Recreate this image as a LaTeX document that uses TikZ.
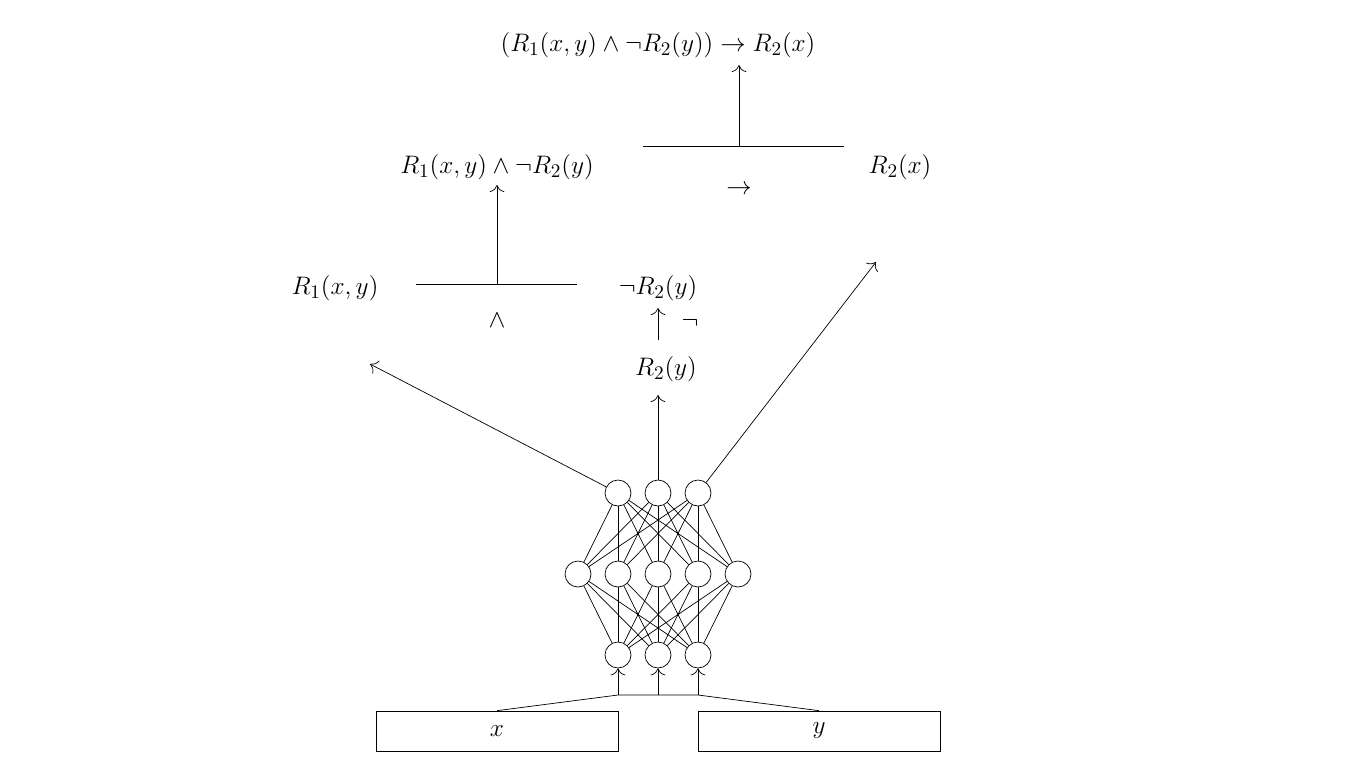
\documentclass[tikz,border=0pt]{standalone}
\usepackage{amsmath}
\usetikzlibrary{arrows.meta}
\begin{document}
\begin{tikzpicture}[x=0.02cm,y=-0.02cm,
  lbl/.style={inner sep=0pt,font=\fontsize{15}{18}\selectfont},
  neuron/.style={draw,circle,inner sep=0pt,minimum size=0.52cm},
  inbox/.style={draw,minimum width=4.84cm,minimum height=0.8cm,inner sep=0pt,font=\fontsize{15}{18}\selectfont},
  arr/.style={-{To[length=4pt]}}]
\useasboundingbox (0,0) rectangle (1347,779);
% texts
\node[lbl] (top) at (658,45) {$(R_1(x,y)\land\neg R_2(y))\rightarrow R_2(x)$};
\node[lbl] (conj) at (497,167) {$R_1(x,y)\land\neg R_2(y)$};
\node[lbl] (r2x) at (900,167) {$R_2(x)$};
\node[lbl] (impl) at (739,190) {$\rightarrow$};
\node[lbl] (r1) at (335,288) {$R_1(x,y)$};
\node[lbl] (nr2) at (658,288) {$\neg R_2(y)$};
\node[lbl] (andl) at (497,320) {$\land$};
\node[lbl] (negl) at (690,323) {$\neg$};
\node[lbl] (r2y) at (666,369) {$R_2(y)$};
% inference bars
\coordinate (b1l) at (643,146); \coordinate (b1r) at (844,146); \coordinate (b1m) at (739,146);
\coordinate (t1) at (739,65);
\draw (b1l) -- (b1r);
\draw[arr] (b1m) -- (t1);
\coordinate (b2l) at (416,284); \coordinate (b2r) at (577,284); \coordinate (b2m) at (497,284);
\coordinate (t2) at (497,185);
\draw (b2l) -- (b2r);
\draw[arr] (b2m) -- (t2);
\coordinate (n1) at (658,340); \coordinate (n2) at (658,308);
\draw[arr] (n1) -- (n2);
% network
\foreach \i/\x in {1/618,2/658,3/698}{
  \node[neuron] (o\i) at (\x,493) {};
  \node[neuron] (i\i) at (\x,655) {};
}
\foreach \i/\x in {1/578,2/618,3/658,4/698,5/738}{
  \node[neuron] (h\i) at (\x,574) {};
}
\foreach \a in {1,2,3}{\foreach \b in {1,...,5}{
  \draw (o\a) -- (h\b); \draw (i\a) -- (h\b);}}
% outputs
\coordinate (e1) at (370,364); \coordinate (e2) at (658,395); \coordinate (e3) at (876,262);
\draw[arr] (o1) -- (e1);
\draw[arr] (o2) -- (e2);
\draw[arr] (o3) -- (e3);
% inputs
\node[inbox] (bx) at (497,731) {$x$};
\node[inbox] (by) at (819,731) {$y$};
\coordinate (j1) at (618,695); \coordinate (j2) at (658,695); \coordinate (j3) at (698,695);
\draw (bx.north) -- (j1) -- (j3) -- (by.north);
\draw[arr] (j1) -- (i1);
\draw[arr] (j2) -- (i2);
\draw[arr] (j3) -- (i3);
\end{tikzpicture}
\end{document}
